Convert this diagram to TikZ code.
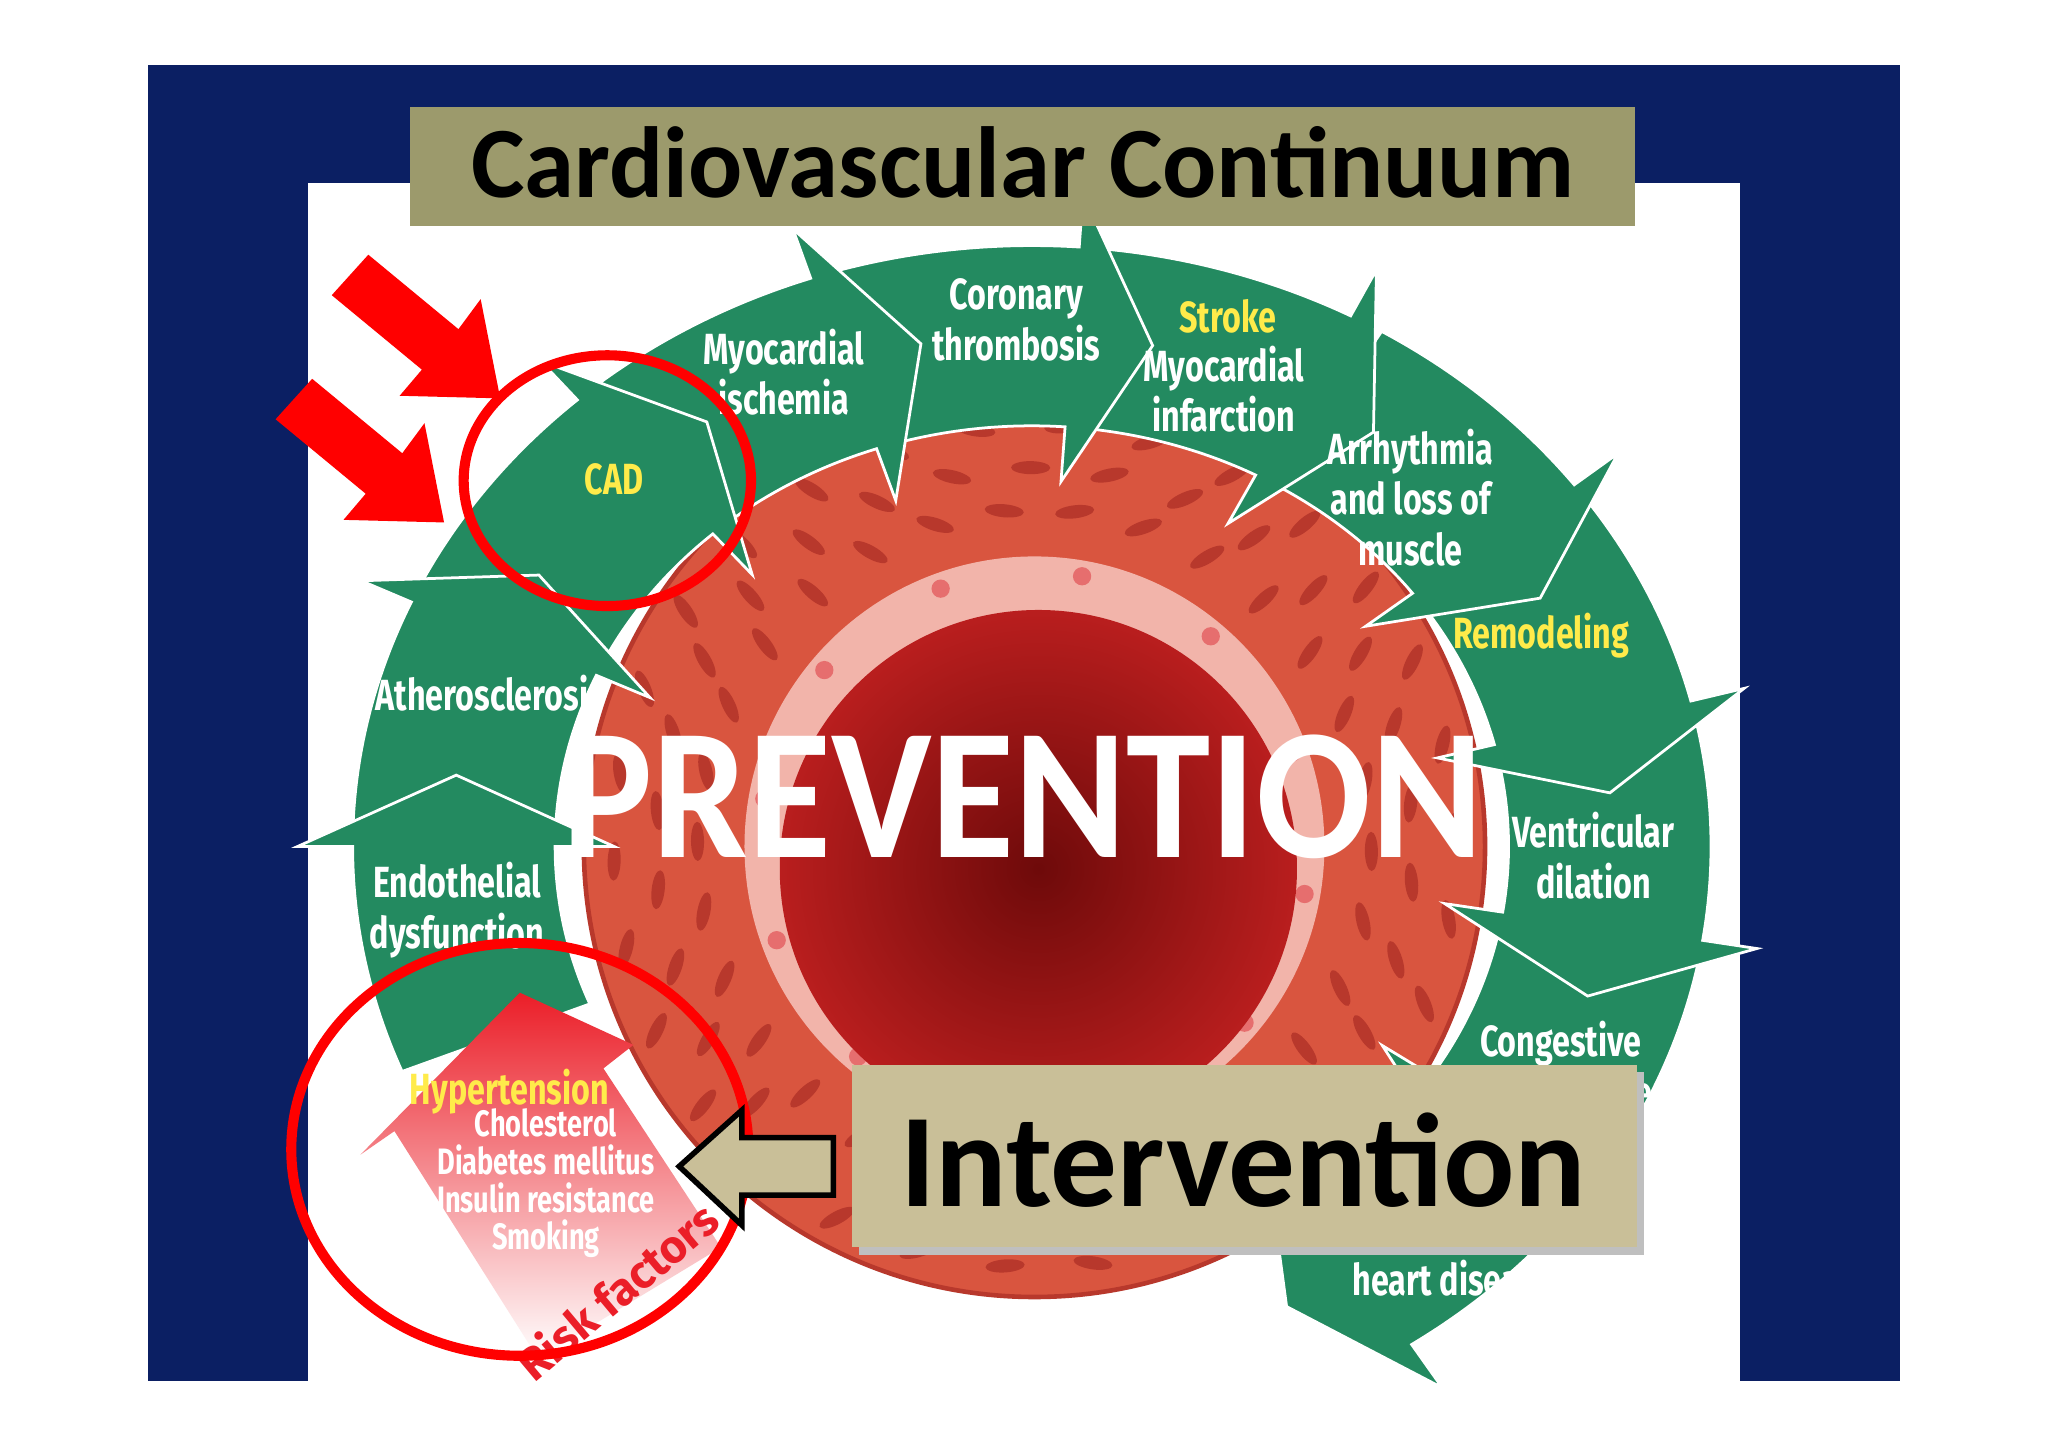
\documentclass[tikz,border=0pt]{standalone}
\usepackage{fontspec}
\setmainfont{Carlito}
\newfontfamily\lab{Fira Sans}
\usetikzlibrary{calc}
\definecolor{navy}{HTML}{0B1F63}
\definecolor{khaki}{HTML}{9C9A6C}
\definecolor{khakib}{HTML}{C9BF98}
\definecolor{grn}{HTML}{238A60}
\definecolor{ringred}{HTML}{D9553F}
\definecolor{celld}{HTML}{B8382C}
\definecolor{pinkl}{HTML}{F2B4AA}
\definecolor{pinkd}{HTML}{E66E6E}
\definecolor{yel}{HTML}{FFEB4A}
\definecolor{lumd}{HTML}{6E0A0A}
\definecolor{luml}{HTML}{B91E1E}
\definecolor{rfred}{HTML}{EB1E28}
\newcommand\cnd[1]{\scalebox{0.74}[1]{#1}}
\newcommand\garrow[3]{%
\fill[grn,draw=white,line width=0.6pt] ($(C)+(#1:520 and 460)$) arc[start angle=#1,end angle=#2,x radius=520,y radius=460] -- ($(C)+(#2:562 and 500)$) -- ($(C)+(#3:445 and 392)$) -- ($(C)+(#2:320 and 280)$) -- ($(C)+(#2:365 and 322)$) arc[start angle=#2,end angle=#1,x radius=365,y radius=322] -- cycle;}
\tikzset{glab/.style={text=white,font=\lab\bfseries\fontsize{9.5}{11}\selectfont,align=center,inner sep=0pt},
 ylab/.style={glab,text=yel}}
\begin{document}
\begin{tikzpicture}[x=0.01cm,y=-0.01cm]
\useasboundingbox (0,0) rectangle (1568,1108);
\fill[white] (0,0) rectangle (1568,1108);
\fill[navy] (113,50) rectangle (1455,1057);
\fill[white] (236,140) rectangle (1332,1057);
\coordinate (C) at (790,648);
\coordinate (A) at (792,648);
% artery
\fill[ringred] (A) circle[radius=345];
\draw[celld,line width=1pt] (A) circle[radius=345];
\foreach \r in {322,290,258}{
 \foreach \a in {0,12,...,359}{
  \fill[celld,shift={($(A)+(\a+\r/7:\r)$)},rotate=\a+\r/7+90] (0,0) ellipse[x radius=15,y radius=5];}}
\fill[pinkl] (A) circle[radius=222];
\foreach \a in {10,40,...,359}{\fill[pinkd] ($(A)+(\a:210)$) circle[radius=7];}
\shade[inner color=lumd,outer color=luml] (795,665) circle[radius=198];
% green arrows (reverse order)
\garrow{34}{56}{64}
\garrow{11}{33}{41}
\garrow{347}{369}{377}
\garrow{324}{346}{354}
\garrow{301}{323}{331}
\garrow{276}{298}{306}
\garrow{252}{274}{282}
\garrow{229}{251}{259}
\garrow{206}{228}{236}
\garrow{182}{204}{212}
\garrow{158}{180}{188}
% labels
\node[glab] (n1) at (350,697) {\cnd{Endothelial}\\\cnd{dysfunction}};
\node[glab] (n2) at (375,531) {\cnd{Atherosclerosis}};
\node[ylab] (n3) at (470,367) {\cnd{CAD}};
\node[glab] (n4) at (600,285) {\cnd{Myocardial}\\\cnd{ischemia}};
\node[glab] (n5) at (778,245) {\cnd{Coronary}\\\cnd{thrombosis}};
\node[ylab] (n6a) at (940,242) {\cnd{Stroke}};
\node[glab] (n6) at (937,298) {\cnd{Myocardial}\\\cnd{infarction}};
\node[glab] (n7) at (1080,381) {\cnd{Arrhythmia}\\\cnd{and loss of}\\\cnd{muscle}};
\node[ylab] (n8) at (1180,487) {\cnd{Remodeling}};
\node[glab] (n9) at (1220,655) {\cnd{Ventricular}\\\cnd{dilation}};
\node[glab] (n10) at (1195,815) {\cnd{Congestive}\\\cnd{heart failure}};
\node[glab] (n11) at (1112,960) {\cnd{End-stage}\\\cnd{heart disease}};
% PREVENTION
\node[text=white,font=\bfseries\fontsize{37}{37}\selectfont,inner sep=0pt] (prev) at (783,610) {\scalebox{1}[1.1]{PREVENTION}};
% red risk factors arrow
\shade[top color=rfred,middle color=rfred!85,bottom color=white] (276,884) -- (398,760) -- (485,800) -- (462,818) -- (552,955) -- (412,1040) -- (302,866) -- cycle;
\node[ylab] (h) at (390,836) {\cnd{Hypertension}};
\node[glab,font=\lab\bfseries\fontsize{8}{8.2}\selectfont] (rf) at (418,906) {\cnd{Cholesterol}\\\cnd{Diabetes mellitus}\\\cnd{Insulin resistance}\\\cnd{Smoking}};
\node[text=rfred,font=\lab\bfseries\fontsize{10}{12}\selectfont,rotate=40] (rk) at (472,988) {Risk factors};
% circles
\draw[red,line width=2.2pt] (465,368) ellipse[x radius=110,y radius=96];
\draw[red,line width=2.2pt] (398,880) ellipse[x radius=175,y radius=158];
% red pointers
\fill[red] (383,305) -- (306,303) -- (323,283) -- (254,226) -- (282,195) -- (351,252) -- (368,229) -- cycle;
\fill[red] (340,400) -- (263,398) -- (280,378) -- (211,321) -- (239,290) -- (308,347) -- (325,324) -- cycle;
% intervention
\fill[black!25] (658,821) rectangle (1259,961);
\fill[khakib] (652,815) rectangle (1253,955);
\node[font=\bfseries\fontsize{29}{29}\selectfont,inner sep=0pt] (iv) at (952,888) {Intervention};
\draw[line width=1.2pt,fill=khakib] (520,893) -- (568,850) -- (568,871) -- (638,871) -- (638,915) -- (568,915) -- (568,938) -- cycle;
% title
\fill[khaki] (314,82) rectangle (1252,173);
\node[font=\bfseries\fontsize{22}{22}\selectfont,inner sep=0pt] (t) at (783,124) {Cardiovascular Continuum};
\end{tikzpicture}
\end{document}
